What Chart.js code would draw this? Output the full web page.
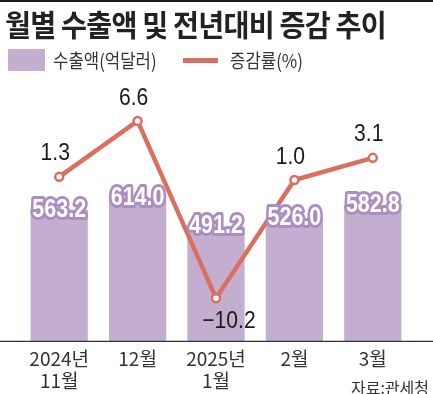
<!DOCTYPE html>
<html>
<head>
<meta charset="utf-8">
<script src="https://cdn.jsdelivr.net/npm/chart.js@4"></script>
<style>
    html, body { margin: 0; padding: 0; background: #fff; }
    #wrap { position: relative; width: 433px; height: 394px; overflow: hidden; border-top: 2px solid #1a1a1a; box-sizing: border-box; }
    #title { position: absolute; left: 5px; top: -1px; font: bold 30px "Noto Sans CJK KR"; color: #222; letter-spacing: -0.8px; transform: scaleX(0.94); transform-origin: left top; white-space: nowrap; }
    .legend { position: absolute; top: 44px; font: 19px "Noto Sans CJK KR"; color: #333; white-space: nowrap; transform: scaleX(0.88); transform-origin: left top; }
    #sw1 { position: absolute; left: 8px; top: 47px; width: 37px; height: 22px; background: #c4aed0; }
    #sw2 { position: absolute; left: 183px; top: 56px; width: 35px; height: 5px; background: #d9705f; }
    #source { position: absolute; right: 4px; top: 373px; font: 16px "Noto Sans CJK KR"; color: #333; white-space: nowrap; }
    canvas { position: absolute; left: 0; top: 0; }
</style>
</head>
<body>
<div id="wrap">
    <canvas id="chart" width="433" height="397"></canvas>
    <div id="title">월별 수출액 및 전년대비 증감 추이</div>
    <div id="sw1"></div>
    <div class="legend" style="left:53px">수출액(억달러)</div>
    <div id="sw2"></div>
    <div class="legend" style="left:230px">증감률(%)</div>
    <div id="source">자료:관세청</div>
</div>
<script>
const categories = [['2024년', '11월'], '12월', ['2025년', '1월'], '2월', '3월'];
const exports = [563.2, 614.0, 491.2, 526.0, 582.8];
const changes = [1.3, 6.6, -10.2, 1.0, 3.1];

const purple = '#c4aed0';
const red = '#d9705f';

// draws value labels and full-width baseline
const labelPlugin = {
    id: 'labels',
    afterDatasetsDraw(chart) {
        const ctx = chart.ctx;
        const base = chart.scales.y.getPixelForValue(0);
        ctx.save();
        ctx.strokeStyle = '#333';
        ctx.lineWidth = 1.2;
        ctx.beginPath();
        ctx.moveTo(0, base + 0.5);
        ctx.lineTo(chart.width, base + 0.5);
        ctx.stroke();

        ctx.textAlign = 'center';
        ctx.textBaseline = 'middle';
        ctx.lineJoin = 'round';

        chart.getDatasetMeta(1).data.forEach((bar, i) => {
            ctx.save();
            ctx.translate(bar.x, bar.y);
            ctx.scale(0.86, 1);
            ctx.font = 'bold 25px "Liberation Sans"';
            ctx.strokeStyle = '#a98dc3';
            ctx.lineWidth = 6;
            ctx.strokeText(exports[i].toFixed(1), 0, 0);
            ctx.fillStyle = '#fff';
            ctx.fillText(exports[i].toFixed(1), 0, 0);
            ctx.restore();
        });

        chart.getDatasetMeta(0).data.forEach((pt, i) => {
            const v = changes[i];
            const txt = v < 0 ? '\u2212' + Math.abs(v).toFixed(1) : v.toFixed(1);
            ctx.save();
            if (v < 0) ctx.translate(pt.x + 13, pt.y + 23);
            else ctx.translate(pt.x - 4, pt.y - 23);
            ctx.scale(0.88, 1);
            ctx.font = '24px "Liberation Sans"';
            ctx.fillStyle = '#1a1a1a';
            ctx.fillText(txt, 0, 0);
            ctx.restore();
        });
        ctx.restore();
    }
};

new Chart(document.getElementById('chart'), {
    data: {
        labels: categories,
        datasets: [{
            type: 'line',
            data: changes,
            yAxisID: 'y2',
            borderColor: red,
            borderWidth: 4.5,
            pointRadius: 4,
            pointBorderWidth: 2.5,
            pointBackgroundColor: '#fff',
            pointBorderColor: red,
            tension: 0,
            order: 0
        }, {
            type: 'bar',
            data: exports,
            yAxisID: 'y',
            backgroundColor: purple,
            barPercentage: 0.73,
            categoryPercentage: 1,
            order: 1
        }]
    },
    options: {
        responsive: false,
        animation: false,
        layout: { padding: { left: 20, right: 21, top: 90, bottom: 0 } },
        plugins: { legend: { display: false }, tooltip: { enabled: false } },
        scales: {
            x: {
                grid: { display: false, drawTicks: false },
                border: { display: false },
                ticks: {
                    padding: 7,
                    color: '#333',
                    font: { family: 'Noto Sans CJK KR', size: 19, lineHeight: 1.16 }
                }
            },
            y: { display: false, min: 0, max: 1068 },
            y2: { display: false, min: -14.25, max: 9.34 }
        }
    },
    plugins: [labelPlugin]
});
</script>
</body>
</html>
